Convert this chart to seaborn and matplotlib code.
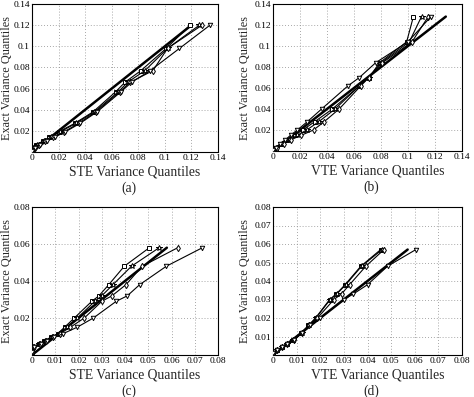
import numpy as np
import pandas as pd
import matplotlib
matplotlib.use("Agg")
import matplotlib.pyplot as plt
import seaborn as sns

# ---------------- data ----------------
series_names = ["square", "star", "diamond", "triangle"]
series_markers = ["s", "*", "d", "v"]

# panel (a): STE vs exact
a_exact = [0.0012, 0.004, 0.007, 0.010, 0.014, 0.019, 0.027, 0.038, 0.057, 0.066, 0.077, 0.098, 0.120]
a_square = [0.000, 0.001, 0.003, 0.008, 0.013, 0.020, 0.032, 0.046, 0.063, 0.070, 0.082, 0.101, 0.119]
a_star = [0.000, 0.001, 0.004, 0.009, 0.014, 0.021, 0.033, 0.047, 0.065, 0.072, 0.085, 0.102, 0.126]
a_diamond = [0.000, 0.002, 0.005, 0.010, 0.016, 0.024, 0.035, 0.048, 0.066, 0.074, 0.091, 0.102, 0.128]
a_triangle = [0.000, 0.002, 0.006, 0.011, 0.017, 0.025, 0.036, 0.049, 0.067, 0.075, 0.089, 0.111, 0.134]

# panel (b): VTE vs exact
b_exact = [0.001, 0.0025, 0.007, 0.0105, 0.015, 0.020, 0.028, 0.040, 0.062, 0.070, 0.084, 0.104, 0.128]
b_square = [0.000, 0.002, 0.006, 0.010, 0.016, 0.022, 0.031, 0.044, 0.064, 0.071, 0.079, 0.099, 0.104]
b_star = [0.000, 0.002, 0.007, 0.012, 0.018, 0.025, 0.034, 0.046, 0.064, 0.071, 0.080, 0.101, 0.110]
b_diamond = [0.000, 0.003, 0.008, 0.013, 0.021, 0.030, 0.038, 0.049, 0.065, 0.071, 0.081, 0.103, 0.115]
b_triangle = [0.000, 0.002, 0.005, 0.009, 0.013, 0.018, 0.0255, 0.036, 0.0555, 0.064, 0.076, 0.100, 0.117]

# panel (c): STE vs exact
c_exact = [0.0015, 0.0043, 0.006, 0.0075, 0.0095, 0.0115, 0.015, 0.020, 0.029, 0.032, 0.038, 0.048, 0.058]
c_square = [0.000, 0.0005, 0.003, 0.005, 0.008, 0.011, 0.0140, 0.0182, 0.0257, 0.0288, 0.033, 0.0397, 0.0505]
c_star = [0.000, 0.0006, 0.003, 0.0055, 0.0085, 0.0115, 0.0150, 0.0195, 0.027, 0.030, 0.0348, 0.0428, 0.0547]
c_diamond = [0.000, 0.0008, 0.0035, 0.006, 0.009, 0.012, 0.0165, 0.0225, 0.030, 0.0344, 0.0404, 0.0474, 0.0627]
c_triangle = [0.000, 0.001, 0.004, 0.0065, 0.0095, 0.0133, 0.0194, 0.0264, 0.0362, 0.041, 0.0463, 0.0578, 0.0733]

# panel (d): VTE vs exact
d_exact = [0.0012, 0.0025, 0.0043, 0.006, 0.008, 0.012, 0.016, 0.020, 0.030, 0.033, 0.038, 0.048, 0.057]
d_square = [0.000, 0.0018, 0.0038, 0.0058, 0.0085, 0.0120, 0.0150, 0.0180, 0.0240, 0.0268, 0.0305, 0.0372, 0.0456]
d_star = [0.000, 0.0018, 0.0039, 0.0059, 0.0086, 0.0121, 0.0151, 0.0182, 0.0242, 0.0270, 0.0308, 0.0375, 0.0462]
d_diamond = [0.000, 0.0019, 0.0040, 0.0060, 0.0088, 0.0123, 0.0153, 0.0188, 0.0258, 0.0290, 0.0324, 0.0393, 0.0470]
d_triangle = [0.000, 0.0019, 0.0040, 0.0061, 0.0089, 0.0124, 0.0158, 0.0200, 0.0300, 0.0340, 0.0400, 0.0485, 0.0605]

a_xticks = [0, 0.02, 0.04, 0.06, 0.08, 0.1, 0.12, 0.14]
a_yticks = [0.02, 0.04, 0.06, 0.08, 0.1, 0.12, 0.14]
c_xticks = [0, 0.01, 0.02, 0.03, 0.04, 0.05, 0.06, 0.07, 0.08]
c_yticks = [0.02, 0.04, 0.06, 0.08]
d_yticks = [0.01, 0.02, 0.03, 0.04, 0.05, 0.06, 0.07, 0.08]

panels = [
    dict(tag="(a)", xlabel="STE Variance Quantiles", exact=a_exact,
         series=[a_square, a_star, a_diamond, a_triangle],
         xlim=0.14, ylim=0.14, xticks=a_xticks, yticks=a_yticks),
    dict(tag="(b)", xlabel="VTE Variance Quantiles", exact=b_exact,
         series=[b_square, b_star, b_diamond, b_triangle],
         xlim=0.14, ylim=0.14, xticks=a_xticks, yticks=a_yticks),
    dict(tag="(c)", xlabel="STE Variance Quantiles", exact=c_exact,
         series=[c_square, c_star, c_diamond, c_triangle],
         xlim=0.08, ylim=0.08, xticks=c_xticks, yticks=c_yticks),
    dict(tag="(d)", xlabel="VTE Variance Quantiles", exact=d_exact,
         series=[d_square, d_star, d_diamond, d_triangle],
         xlim=0.08, ylim=0.08, xticks=c_xticks, yticks=d_yticks),
]

# ---------------- style ----------------
sns.set_style("white")
plt.rcParams["font.family"] = ["Liberation Serif", "DejaVu Serif"]

fig = plt.figure(figsize=(4.74, 3.97), dpi=100)
W, H = 474.0, 397.0
# axes boxes in pixels: (left, top, right, bottom)
boxes = [(32, 4, 218, 152), (273, 4, 462, 151), (32, 207, 218, 355), (273, 207, 462, 355)]
ylab_x = [7, 245, 7, 245]

for p, (l, t, r, b), ylx in zip(panels, boxes, ylab_x):
    ax = fig.add_axes([l / W, (H - b) / H, (r - l) / W, (b - t) / H])
    ax.set_facecolor("white")
    hpx = float(b - t)
    wpx = float(r - l)
    # reference line y = x
    top = max(p["exact"])
    sns.lineplot(x=[0, top], y=[0, top], ax=ax, color="black", lw=1.8,
                 sort=False, estimator=None, zorder=3)
    for vals, mk in zip(p["series"], series_markers):
        sns.lineplot(x=vals, y=p["exact"], ax=ax, color="black", lw=0.8,
                     marker=mk, markersize=4.0 if mk == "*" else 3.2,
                     markerfacecolor="white", markeredgecolor="black",
                     markeredgewidth=0.7, sort=False, estimator=None, zorder=4)
    ax.set_xlim(0, p["xlim"])
    ax.set_ylim(0, p["ylim"])
    ax.set_xticks(p["xticks"])
    ax.set_yticks(p["yticks"])
    ax.set_xticklabels([("%g" % v) for v in p["xticks"]])
    ax.set_yticklabels([("%g" % v) for v in p["yticks"]])
    ax.tick_params(direction="in", length=1.5, width=0.5, labelsize=6.8,
                   pad=1.5, colors="black")
    ax.grid(True, linestyle=(0, (1, 2.5)), color="#8a8a8a", linewidth=0.6)
    for s in ax.spines.values():
        s.set_visible(True)
        s.set_color("black")
        s.set_linewidth(0.8)
    ax.set_xlabel(p["xlabel"], fontsize=9.8)
    ax.xaxis.set_label_coords(0.5 + 10 / wpx, -20 / hpx)
    ax.xaxis.label.set_va("center")
    ax.set_ylabel("Exact Variance Quantiles", fontsize=8.8)
    ax.yaxis.set_label_coords((ylx - l) / wpx, 0.5)
    ax.yaxis.label.set_va("center")
    ax.text(0.5 + 4 / wpx, -36 / hpx, p["tag"], transform=ax.transAxes,
            ha="center", va="center", fontsize=9.8)

fig.savefig("out.png", dpi=100)
